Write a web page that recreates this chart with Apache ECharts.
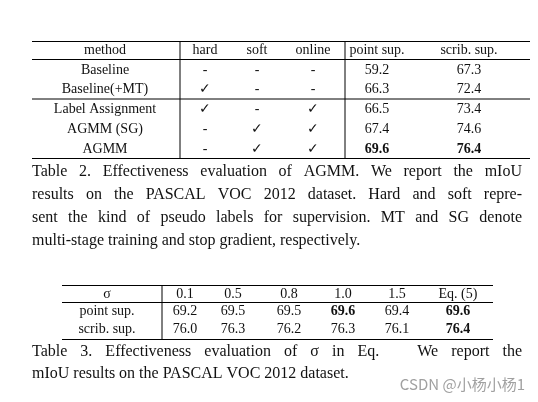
<!DOCTYPE html>
<html><head><meta charset="utf-8">
<script src="https://cdn.jsdelivr.net/npm/echarts@6/dist/echarts.min.js"></script>
<style>body{margin:0;background:#fff}#c{width:538px;height:402px}</style></head>
<body><div id="c"></div>
<script>
const t2Header = ["method","hard","soft","online","point sup.","scrib. sup."];
const t2Methods = ["Baseline","Baseline(+MT)","Label Assignment","AGMM (SG)","AGMM"];
const t2Hard = ["-","✓","✓","-","-"];
const t2Soft = ["-","-","-","✓","✓"];
const t2Online = ["-","-","✓","✓","✓"];
const t2Point = ["59.2","66.3","66.5","67.4","69.6"];
const t2Scrib = ["67.3","72.4","73.4","74.6","76.4"];
const t3Sigma = ["0.1","0.5","0.8","1.0","1.5","Eq. (5)"];
const t3Point = ["69.2","69.5","69.5","69.6","69.4","69.6"];
const t3Scrib = ["76.0","76.3","76.2","76.3","76.1","76.4"];
const cap2 = ["Table 2. Effectiveness evaluation of AGMM. We report the mIoU",
"results on the PASCAL VOC 2012 dataset.  Hard and soft repre-",
"sent the kind of pseudo labels for supervision. MT and SG denote",
"multi-stage training and stop gradient, respectively."];
const cap3 = ["Table 3.  Effectiveness evaluation of σ in Eq. 5.  We report the",
"mIoU results on the PASCAL VOC 2012 dataset."];

const F='"Liberation Serif","DejaVu Serif",serif';
const els=[];
const cv=document.createElement('canvas').getContext('2d');
function txt(x,y,s,o={}){els.push({type:'text',x,y,style:{text:s,font:(o.bold?'bold ':'')+(o.size||14)+'px '+F,fill:o.fill||'#111',align:o.align||'center',verticalAlign:'middle'}});}
function hl(x1,x2,y,w=1){els.push({type:'line',shape:{x1,y1:y,x2,y2:y},style:{stroke:'#000',lineWidth:w}});}
function vl(x,y1,y2){els.push({type:'line',shape:{x1:x,y1,x2:x,y2},style:{stroke:'#000',lineWidth:1}});}
function just(line,x0,x1,y,justify){
  const font='16px '+F; cv.font=font;
  const words=line.split(/\s+/);
  const tot=words.reduce((a,w)=>a+cv.measureText(w).width,0);
  const gap=justify?(x1-x0-tot)/(words.length-1):cv.measureText(' ').width;
  let x=x0;
  words.forEach(w=>{els.push({type:'text',x,y,style:{text:w,font,fill:w==='5.'?'#111':'#111',align:'left',verticalAlign:'middle'}});
    if(w==='5.'){els[els.length-1].style={text:'{r|5}{a|.}',x,y,align:'left',verticalAlign:'middle',rich:{a:{font,fill:'#111'},r:{font,fill:'#e02020'}}};}
    x+=cv.measureText(w).width+gap;});
}

// Table 2
const c2=[105,205,257,313,377,469];
hl(32,530,41.5);
t2Header.forEach((h,i)=>txt(c2[i],50,h));
hl(32,530,59.5);
const r2=[70,89,109,129,149];
t2Methods.forEach((m,i)=>{
  const y=r2[i], best=i===4;
  txt(c2[0],y,m); txt(c2[1],y,t2Hard[i]); txt(c2[2],y,t2Soft[i]); txt(c2[3],y,t2Online[i]);
  txt(c2[4],y,t2Point[i],{bold:best}); txt(c2[5],y,t2Scrib[i],{bold:best});
});
hl(32,530,99);
hl(32,530,158.5);
vl(180,41.5,158.5); vl(345,41.5,158.5);
cap2.forEach((s,i)=>just(s,32,522,172+i*23,i<3));

// Table 3
const c3=[185,233,289,343,397,458];
hl(62,493,285.5);
txt(107,294,'σ');
t3Sigma.forEach((s,i)=>txt(c3[i],294,s));
hl(62,493,302.5);
txt(107,311,'point sup.'); txt(107,329,'scrib. sup.');
t3Point.forEach((v,i)=>txt(c3[i],311,v,{bold:i===3||i===5}));
t3Scrib.forEach((v,i)=>txt(c3[i],329,v,{bold:i===5}));
hl(62,493,339.5);
vl(162,285.5,339.5);
cap3.forEach((s,i)=>just(s,32,522,352+i*22,i<1));
els.push({type:'text',x:525,y:384,style:{text:'CSDN @小杨小杨1',font:'15px "Noto Sans CJK SC",sans-serif',fill:'rgba(150,150,150,0.9)',align:'right',verticalAlign:'middle'}});

const ch=echarts.init(document.getElementById('c'));
ch.setOption({graphic:{elements:els}});
</script></body></html>
